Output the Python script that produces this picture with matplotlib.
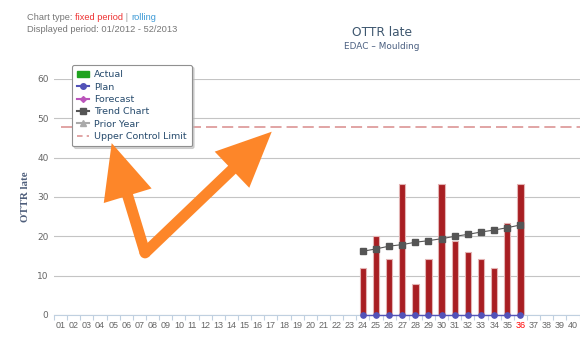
import matplotlib
matplotlib.use('Agg')
import matplotlib.pyplot as plt
from matplotlib.lines import Line2D
from matplotlib.patches import Patch, FancyArrow, Circle
from matplotlib.transforms import IdentityTransform

plt.rcParams['font.family'] = ['DejaVu Sans']
plt.rcParams['lines.scale_dashes'] = False

# data
week_labels = ['%02d' % i for i in range(1, 53)]
actual_weeks = [24, 25, 26, 27, 28, 29, 30, 31, 32, 33, 34, 35, 36]
actual = [12.0, 20.0, 14.3, 33.3, 8.0, 14.3, 33.3, 18.8, 16.0, 14.3, 12.0, 23.5, 33.3]
trend = [16.2, 16.8, 17.5, 17.9, 18.5, 18.9, 19.4, 20.0, 20.5, 21.1, 21.6, 22.2, 22.9]
plan = [0, 0, 0, 0, 0, 0, 0, 0, 0, 0, 0, 0, 0]
ucl = 47.9
current_week = 36

W, H = 580, 338
fig = plt.figure(figsize=(W / 100, H / 100), dpi=100)
ax = fig.add_axes([54 / W, (H - 315) / H, 526 / W, 236 / H])

x_all = list(range(1, len(week_labels) + 1))

ax.bar(actual_weeks, actual, width=0.48, color='#a81e22', edgecolor='#e3b4b4',
       linewidth=0.8, zorder=3)
ax.plot(x_all, [ucl] * len(x_all), color='#d88c8c', lw=1.1, dashes=(8, 3.6), zorder=2)
ax.plot(actual_weeks, trend, color='#555555', lw=0.8, marker='s', markersize=4.1, zorder=4)
ax.plot(actual_weeks, plan, color='#5252b8', lw=1.0, marker='o', markersize=3.8,
        zorder=5, clip_on=False)

# axes styling
for s in ['top', 'right', 'left']:
    ax.spines[s].set_visible(False)
ax.spines['bottom'].set_color('#c0d0e0')
ax.spines['bottom'].set_zorder(1)
ax.set_yticks([0, 10, 20, 30, 40, 50, 60])
ax.yaxis.grid(True, color='#c4c4c4', lw=0.8)
ax.set_axisbelow(True)
ax.tick_params(axis='y', length=0, pad=4.0, labelsize=6.5, labelcolor='#666666')

ax.set_xticks(x_all)
ax.set_xticklabels(week_labels)
ax.set_xticks([i - 0.5 for i in x_all], minor=True)
ax.tick_params(axis='x', which='major', length=0, pad=4.2, labelsize=6.5,
               labelcolor='#666666')
ax.tick_params(axis='x', which='minor', length=3.6, color='#c0d0e0', width=0.8)
for lab in ax.get_xticklabels():
    if lab.get_text() == '%02d' % current_week:
        lab.set_color('#ff0000')
    lab.set_fontfamily('Liberation Sans')

ax.set_xlim(0.5, 40.53)
ax.set_ylim(0, 60)

ax.set_ylabel('OTTR late', fontsize=7.8, color='#4d5d7a', fontweight='bold',
              family='Liberation Serif', labelpad=5)

# titles
fig.text(382 / W, 1 - 32 / H, 'OTTR late', ha='center', va='center',
         fontsize=8.8, color='#3e576f')
fig.text(382 / W, 1 - 46.5 / H, 'EDAC \u2013 Moulding', ha='center', va='center',
         fontsize=6.4, color='#4a5f80')

# header text
t1 = fig.text(27 / W, 1 - 17 / H, 'Chart type: ', ha='left', va='center',
              fontsize=6.7, color='#777777', family='Liberation Sans')
t2 = fig.text(0, 0, 'fixed period', fontsize=6.7, color='#ee3333', family='Liberation Sans')
t3 = fig.text(0, 0, ' | ', fontsize=6.7, color='#999999', family='Liberation Sans')
t4 = fig.text(0, 0, 'rolling', fontsize=6.7, color='#3d9ad6', family='Liberation Sans')
fig.text(27 / W, 1 - 30 / H, 'Displayed period: 01/2012 - 52/2013', ha='left', va='center',
         fontsize=6.7, color='#777777', family='Liberation Sans')

fig.canvas.draw()
r = fig.canvas.get_renderer()
prev = t1
for t in [t2, t3, t4]:
    bb = prev.get_window_extent(r)
    t.set_position((bb.x1 / W, 1 - 17 / H))
    t.set_va('center')
    fig.canvas.draw()
    prev = t

# legend
handles = [
    Patch(facecolor='#1fa31f', edgecolor='#1fa31f'),
    Line2D([], [], color='#5252b8', marker='o', markersize=4),
    Line2D([], [], color='#bb55bb', marker='D', markersize=3),
    Line2D([], [], color='#555555', marker='s', markersize=4),
    Line2D([], [], color='#aaaaaa', marker='^', markersize=4),
    Line2D([], [], color='#d88c8c', lw=1.1, dashes=(4, 3)),
]
labels = ['Actual', 'Plan', 'Forecast', 'Trend Chart', 'Prior Year', 'Upper Control Limit']
leg = ax.legend(handles, labels, loc='upper left', bbox_to_anchor=(72 / W, 1 - 65 / H),
                bbox_transform=fig.transFigure, borderaxespad=0, fontsize=6.8,
                frameon=True, fancybox=True,
                shadow={'color': '#b8b8b8', 'alpha': 0.6, 'ox': 1.5, 'oy': -1.5},
                labelspacing=0.36, handlelength=1.3, handletextpad=0.5, borderpad=0.55)
leg.get_frame().set_edgecolor('#909090')
leg.get_frame().set_linewidth(0.8)
for t in leg.get_texts():
    t.set_color('#274b6d')
leg.set_zorder(10)

# orange arrows annotation (data coords)
vertex = (7.43, 15.8)
tips = [(4.89, 43.7), (17.07, 46.6)]
orange = '#fd8629'
vx, vy = ax.transData.transform(vertex)
for tip in tips:
    tx, ty = ax.transData.transform(tip)
    arr = FancyArrow(vx, vy, tx - vx, ty - vy, width=11, head_width=50, head_length=55,
                     length_includes_head=True, transform=IdentityTransform(),
                     color=orange, lw=0, zorder=20)
    fig.add_artist(arr)
fig.add_artist(Circle((vx, vy), 5.5, transform=IdentityTransform(), color=orange,
                      lw=0, zorder=20))

fig.savefig('out.png', dpi=100)
